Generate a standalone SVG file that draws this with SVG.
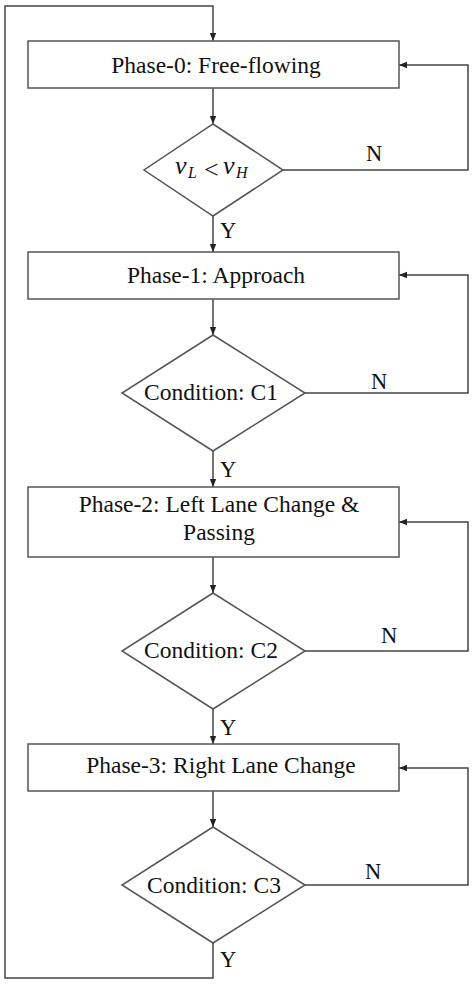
<svg xmlns="http://www.w3.org/2000/svg" width="474" height="986" viewBox="0 0 474 986">
<style>
.box{fill:#fff;stroke:#555;stroke-width:1.5}
.ln{fill:none;stroke:#444;stroke-width:1.5}
.t{font-family:'Liberation Serif','Times New Roman','DejaVu Serif',serif;font-size:23.5px;fill:#111;text-anchor:middle}
.l{font-family:'Liberation Serif','Times New Roman','DejaVu Serif',serif;font-size:22.5px;fill:#111}
.m{font-family:'Liberation Serif','Times New Roman','DejaVu Serif',serif;fill:#111;font-style:italic}
</style>
<defs>
<marker id="ah" viewBox="0 0 10 10" refX="10" refY="5" markerWidth="8" markerHeight="8" markerUnits="userSpaceOnUse" orient="auto">
<path d="M0,1 L10,5 L0,9 Z" fill="#222"/>
</marker>
</defs>
<rect width="474" height="986" fill="#fff"/>
<g id="connectors">
<path class="ln" d="M213,943 V978 H5 V6 H213 V41" marker-end="url(#ah)"/>
<path class="ln" d="M213,88 V124" marker-end="url(#ah)"/>
<path class="ln" d="M213,216 V252" marker-end="url(#ah)"/>
<path class="ln" d="M283,170 H468 V65 H399" marker-end="url(#ah)"/>
<path class="ln" d="M213,299 V335" marker-end="url(#ah)"/>
<path class="ln" d="M213,451 V487" marker-end="url(#ah)"/>
<path class="ln" d="M305,393 H468 V275 H399" marker-end="url(#ah)"/>
<path class="ln" d="M213,557 V593" marker-end="url(#ah)"/>
<path class="ln" d="M213,709 V744" marker-end="url(#ah)"/>
<path class="ln" d="M305,651 H468 V522 H399" marker-end="url(#ah)"/>
<path class="ln" d="M213,791 V827" marker-end="url(#ah)"/>
<path class="ln" d="M305,885 H468 V768 H399" marker-end="url(#ah)"/>
<text class="l" x="366" y="161">N</text>
<text class="l" x="220" y="238">Y</text>
<text class="l" x="371" y="389">N</text>
<text class="l" x="220" y="477">Y</text>
<text class="l" x="381" y="643">N</text>
<text class="l" x="220" y="735">Y</text>
<text class="l" x="365" y="879">N</text>
<text class="l" x="220" y="967">Y</text>
</g>
<g id="phase0">
<rect class="box" x="28" y="41" width="371" height="47"/>
<text class="t" x="216" y="73">Phase-0: Free-flowing</text>
</g>
<g id="cond0">
<polygon class="box" points="213,124 283,170 213,216 144,170"/>
<text class="m" font-size="26"><tspan x="175" y="174">v</tspan><tspan x="188" y="178" font-size="16">L</tspan><tspan x="204" y="178" font-style="normal">&lt;</tspan><tspan x="223" y="174">v</tspan><tspan x="236" y="178" font-size="16">H</tspan></text>
</g>
<g id="phase1">
<rect class="box" x="28" y="252" width="371" height="47"/>
<text class="t" x="216" y="283">Phase-1: Approach</text>
</g>
<g id="cond1">
<polygon class="box" points="213,335 305,393 213,451 122,393"/>
<text class="t" x="211" y="400">Condition: C1</text>
</g>
<g id="phase2">
<rect class="box" x="28" y="487" width="371" height="70"/>
<text class="t" x="219" y="512">Phase-2: Left Lane Change &amp;</text>
<text class="t" x="219" y="540">Passing</text>
</g>
<g id="cond2">
<polygon class="box" points="213,593 305,651 213,709 122,651"/>
<text class="t" x="211" y="658">Condition: C2</text>
</g>
<g id="phase3">
<rect class="box" x="28" y="744" width="371" height="47"/>
<text class="t" x="221" y="773">Phase-3: Right Lane Change</text>
</g>
<g id="cond3">
<polygon class="box" points="213,827 305,885 213,943 122,885"/>
<text class="t" x="214" y="893">Condition: C3</text>
</g>
</svg>
